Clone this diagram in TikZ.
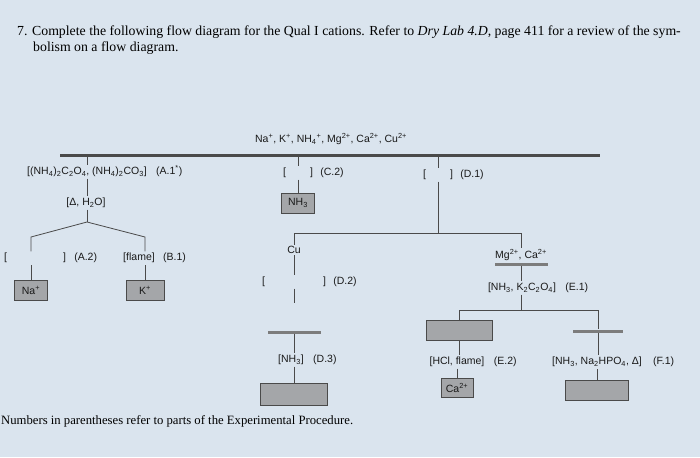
\documentclass[tikz,border=0pt]{standalone}
\usepackage{fontspec}
\setmainfont{Liberation Serif}
\setsansfont{Liberation Sans}
\usetikzlibrary{positioning}
\definecolor{paper}{HTML}{DAE4EE}
\definecolor{ink}{HTML}{4A4A4A}
\definecolor{barcol}{HTML}{7C7C7C}
\definecolor{boxfill}{HTML}{A4A6A9}
\newcommand{\spr}[1]{\textsuperscript{#1}}
\newcommand{\sbs}[1]{\textsubscript{#1}}

\begin{document}
\begin{tikzpicture}[x=1pt,y=-1pt]
				\tikzstyle{lbl}=[font=\sffamily\fontsize{10.5}{12}\selectfont,inner sep=1.5pt,text=black!90]
				\tikzstyle{ion}=[lbl,draw=ink,fill=boxfill,minimum height=20pt,inner sep=2pt]
				\tikzstyle{blank}=[draw=ink,fill=boxfill,minimum height=20pt]
				\tikzstyle{barnode}=[fill=barcol,minimum height=3pt,inner sep=0pt]
				\tikzstyle{mainbar}=[fill=ink,minimum height=3pt,inner sep=0pt]
				\tikzstyle{wire}=[draw=ink,line width=0.8pt]
				\tikzstyle{prose}=[font=\fontsize{13.8}{16}\selectfont,inner sep=0pt,anchor=base west]

				\fill[paper] (0,0) rectangle (700,457);
				\useasboundingbox (0,0) rectangle (700,457);

				\node [prose] (title1) at (17,36) {7. Complete the following flow diagram for the Qual I cations. Refer to \textit{Dry Lab 4.D}, page 411 for a review of the sym-};
				\node [prose] (title2) at (33,52) {bolism on a flow diagram.};
				\node [prose,font=\fontsize{12.7}{15}\selectfont] (note) at (1,424) {Numbers in parentheses refer to parts of the Experimental Procedure.};

				\node [mainbar,minimum width=540pt] (top) at (330,155) {};
				\node [lbl] (cations) at (331,139) {Na\spr{+}, K\spr{+}, NH\sbs{4}\spr{+}, Mg\spr{2+}, Ca\spr{2+}, Cu\spr{2+}};

				\node [lbl] (a1) at (87,172) {[(NH\sbs{4})\sbs{2}C\sbs{2}O\sbs{4}, (NH\sbs{4})\sbs{2}CO\sbs{3}]};
				\node [lbl,base right=6pt of a1] (a1n) {(A.1\spr{*})};
				\node [lbl] (heat) at (86,203) {[Δ, H\sbs{2}O]};
				\coordinate (split) at (87,222);
				\coordinate (aL) at (31,237);
				\coordinate (aR) at (145,237);
				\node [lbl] (a2) at (35,258) {[\hspace{56pt}]};
				\node [lbl,base right=5pt of a2] (a2n) {(A.2)};
				\node [lbl] (flame) at (139,258) {[flame]};
				\node [lbl,base right=5pt of flame] (b1n) {(B.1)};
				\node [ion,minimum width=33pt] (na) at (31,290) {Na\spr{+}};
				\node [ion,minimum width=38pt] (k) at (145,290) {K\spr{+}};

				\draw[wire] (a1 |- top.south) -- (a1.north);
				\draw[wire] (a1.south) -- (a1.south |- heat.north);
				\draw[wire] (heat.south -| split) -- (split);
				\draw[wire] (aL |- a2.north) -- (aL) -- (split) -- (aR) -- (aR |- flame.north);
				\draw[wire] (na.north) -- (na.north |- a2.south);
				\draw[wire] (k.north) -- (k.north |- flame.south);

				\node [lbl] (c2) at (298,173) {[\hspace{24pt}]};
				\node [lbl,base right=4pt of c2] (c2n) {(C.2)};
				\node [ion,minimum width=33pt] (nh3) at (298,203) {NH\sbs{3}};

				\draw[wire] (c2 |- top.south) -- (c2.north);
				\draw[wire] (c2.south) -- (nh3.north);

				\node [lbl] (d1) at (438,175) {[\hspace{24pt}]};
				\node [lbl,base right=4pt of d1] (d1n) {(D.1)};
				\coordinate (dsplit) at (438,233);
				\coordinate (cuL) at (294,233);
				\coordinate (mgR) at (521,233);
				\node [lbl] (cu) at (294,250) {Cu};
				\node [lbl] (mg) at (521,255) {Mg\spr{2+}, Ca\spr{2+}};

				\draw[wire] (d1 |- top.south) -- (d1.north);
				\draw[wire] (d1.south) -- (dsplit);
				\draw[wire] (cu.north) -- (cuL) -- (mgR) -- (mg.north);

				\node [lbl] (d2) at (294,282) {[\hspace{58pt}]};
				\node [lbl,base right=4pt of d2] (d2n) {(D.2)};
				\coordinate (d2end) at (294,303);
				\node [barnode,minimum width=53pt] (d3bar) at (294,332) {};
				\node [lbl] (d3) at (291,360) {[NH\sbs{3}]};
				\node [lbl,base right=6pt of d3] (d3n) {(D.3)};
				\node [blank,minimum width=67pt,minimum height=22pt] (d3box) at (294,394) {};

				\draw[wire] (cu.south) -- (cu.south |- d2.north);
				\draw[wire] (d2.south -| cu) -- (d2end);
				\draw[wire] (d3bar.south) -- (d3bar.south |- d3.north);
				\draw[wire] (d3bar |- d3.south) -- (d3box.north);

				\node [barnode,minimum width=53pt] (mgbar) at (521,264) {};
				\node [lbl] (e1) at (522,288) {[NH\sbs{3}, K\sbs{2}C\sbs{2}O\sbs{4}]};
				\node [lbl,base right=6pt of e1] (e1n) {(E.1)};
				\coordinate (esplit) at (521,310);
				\coordinate (eL) at (459,310);
				\coordinate (eR) at (598,310);
				\node [blank,minimum width=66pt] (e2box) at (459,330) {};
				\node [lbl] (e2) at (457,362) {[HCl, flame]};
				\node [lbl,base right=6pt of e2] (e2n) {(E.2)};
				\node [ion,minimum width=32pt,minimum height=19pt] (ca) at (457,388) {Ca\spr{2+}};
				\node [barnode,minimum width=50pt] (f1bar) at (598,331) {};
				\node [lbl] (f1) at (597,362) {[NH\sbs{3}, Na\sbs{2}HPO\sbs{4}, Δ]};
				\node [lbl,base right=8pt of f1] (f1n) {(F.1)};
				\node [blank,minimum width=63pt] (f1box) at (597,390) {};

				\draw[wire] (mgbar.south) -- (mgbar.south |- e1.north);
				\draw[wire] (e1.south -| esplit) -- (esplit);
				\draw[wire] (e2box.north) -- (eL) -- (eR) -- (f1bar.north);
				\draw[wire] (e2box.south) -- (e2box.south |- e2.north);
				\draw[wire] (e2.south) -- (ca.north);
				\draw[wire] (f1bar.south) -- (f1bar.south |- f1.north);
				\draw[wire] (f1box.north) -- (f1box.north |- f1.south);

\end{tikzpicture}
\end{document}
